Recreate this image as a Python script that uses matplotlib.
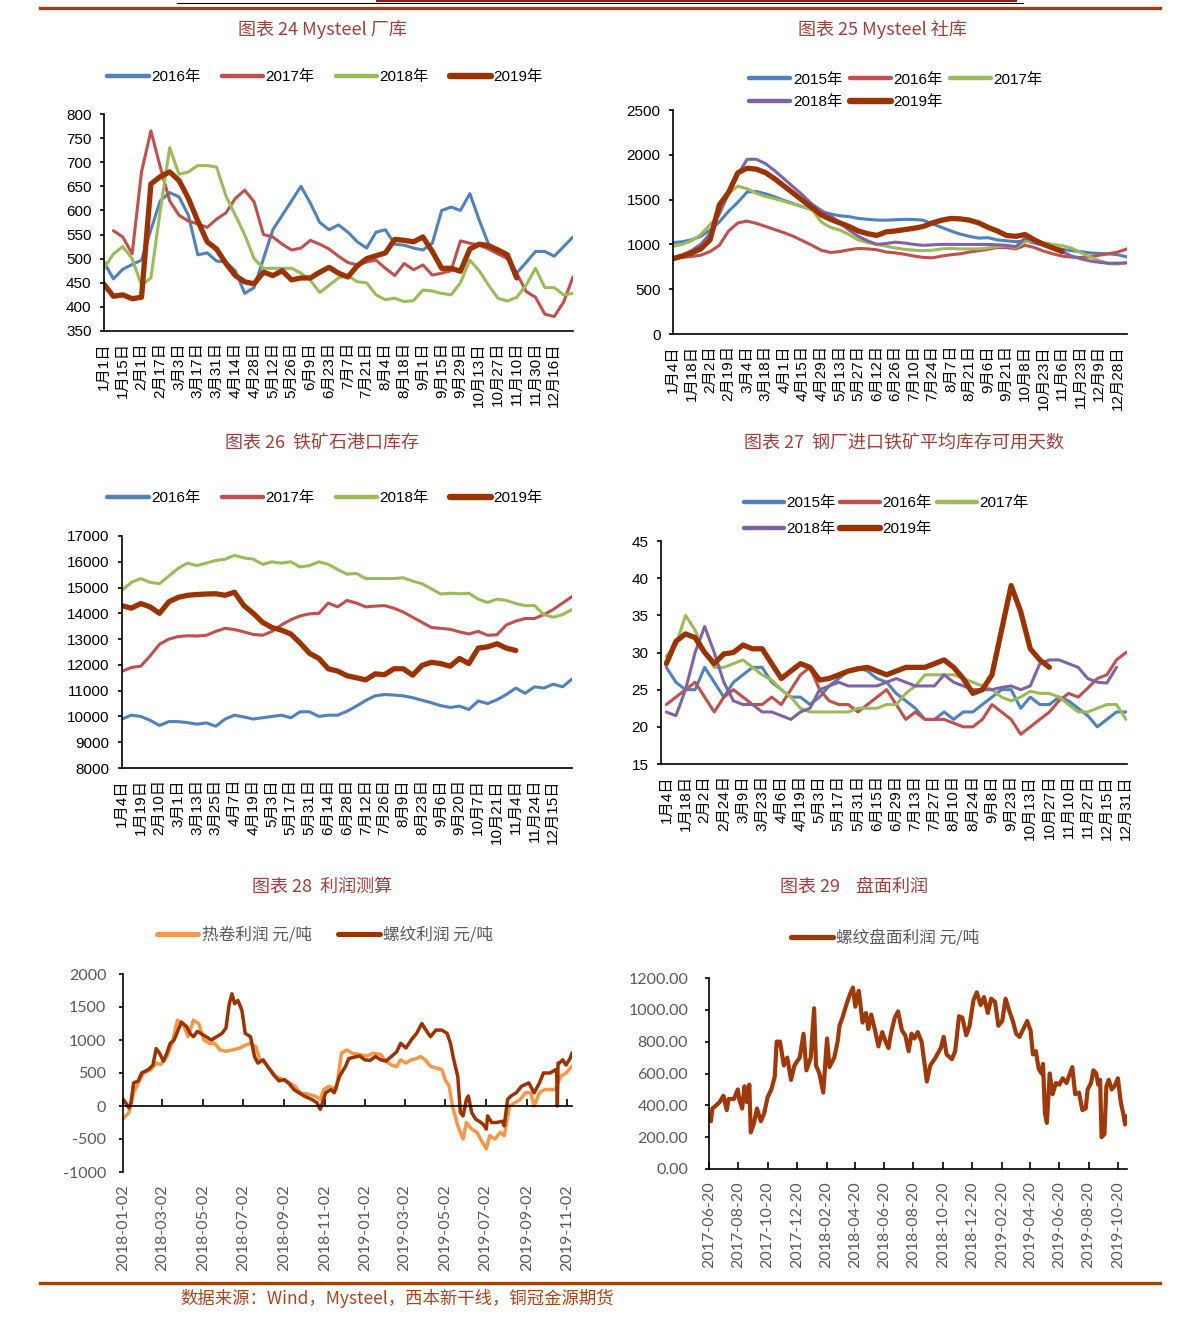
import matplotlib
matplotlib.use("Agg")
import matplotlib.pyplot as plt
from matplotlib.lines import Line2D
import matplotlib.dates as mdates
import numpy as np
import pandas as pd

plt.rcParams["font.family"] = ["Liberation Sans", "Noto Sans CJK SC"]
plt.rcParams["axes.unicode_minus"] = False

W, H = 1191, 1328
nan = np.nan

BLUE, RED, GREEN, PURPLE, DARK = "#4F81BD", "#C0504D", "#9BBB59", "#8064A2", "#9A3300"
ORANGE, REBAR, FUTC = "#F79646", "#9A3300", "#A0390A"
TITLE_C, GREY = "#A0403C", "#595959"

# ---- 图表24 Mysteel 厂库 (weekly) ----
P24_LABELS = ["1月1日", "1月15日", "2月1日", "2月17日", "3月3日", "3月17日", "3月31日",
              "4月14日", "4月28日", "5月12日", "5月26日", "6月9日", "6月23日", "7月7日",
              "7月21日", "8月4日", "8月18日", "9月1日", "9月15日", "9月29日", "10月13日",
              "10月27日", "11月10日", "11月30日", "12月16日"]
P24_2016 = [493, 458, 478, 488, 497, 560, 620, 637, 628, 590, 508, 512, 495, 493, 475, 428, 440,
            500, 560, 590, 620, 650, 615, 575, 560, 570, 555, 535, 522, 555, 560, 530, 528, 522,
            518, 532, 600, 607, 600, 635, 580, 530, 510, 505, 470, 492, 515, 515, 505, 525, 545]
P24_2017 = [nan, 558, 545, 510, 680, 765, 690, 620, 590, 578, 572, 565, 582, 595, 625, 642, 618,
            550, 545, 530, 518, 522, 538, 530, 520, 505, 492, 487, 493, 497, 480, 465, 490, 477,
            487, 466, 470, 475, 537, 532, 528, 520, 510, 500, 470, 432, 420, 385, 380, 410, 462]
P24_2018 = [480, 510, 525, 500, 445, 460, 600, 730, 675, 680, 693, 693, 690, 630, 590, 550, 500,
            480, 480, 480, 480, 470, 455, 430, 445, 460, 465, 452, 450, 425, 415, 418, 411, 413,
            435, 433, 428, 425, 450, 497, 475, 445, 418, 412, 420, 445, 480, 440, 440, 425, 428]
P24_2019 = [447, 422, 425, 417, 420, 655, 670, 680, 662, 625, 578, 535, 520, 490, 465, 452, 448,
            472, 465, 475, 456, 460, 460, 472, 482, 470, 462, 485, 500, 506, 512, 540, 538, 535,
            545, 515, 480, 480, 474, 520, 530, 527, 518, 508, 460]

# ---- 图表25 Mysteel 社库 ----
P25_LABELS = ["1月4日", "1月18日", "2月2日", "2月19日", "3月4日", "3月18日", "4月1日", "4月15日",
              "4月29日", "5月13日", "5月27日", "6月12日", "6月26日", "7月10日", "7月24日", "8月7日",
              "8月21日", "9月6日", "9月21日", "10月8日", "10月23日", "11月6日", "11月23日",
              "12月9日", "12月28日"]
P25_2015 = [1020, 1030, 1050, 1090, 1160, 1250, 1370, 1470, 1585, 1590, 1565, 1530, 1490, 1455,
            1420, 1390, 1365, 1340, 1320, 1310, 1290, 1280, 1272, 1270, 1275, 1280, 1278, 1270,
            1230, 1190, 1150, 1115, 1090, 1070, 1075, 1050, 1040, 1030, 1040, 1015, 990, 970, 945,
            930, 920, 905, 900, 895, 885, 860]
P25_2016 = [840, 855, 865, 880, 920, 990, 1150, 1240, 1260, 1235, 1200, 1165, 1130, 1090, 1040,
            990, 935, 910, 920, 940, 955, 950, 940, 915, 905, 890, 870, 855, 850, 870, 885, 895,
            915, 930, 945, 965, 965, 950, 990, 965, 925, 895, 870, 858, 855, 860, 880, 895, 915, 950]
P25_2017 = [980, 1000, 1040, 1110, 1220, 1330, 1570, 1650, 1620, 1570, 1535, 1510, 1480, 1450,
            1420, 1390, 1250, 1190, 1160, 1110, 1050, 1020, 1000, 980, 960, 945, 935, 930, 935,
            950, 955, 950, 950, 950, 960, 975, 985, 965, 1030, 1040, 1020, 1000, 985, 960, 910,
            860, 820, 785, 780, 795]
P25_2018 = [850, 880, 930, 1000, 1120, 1350, 1570, 1780, 1950, 1950, 1900, 1820, 1730, 1640,
            1550, 1450, 1380, 1320, 1240, 1160, 1090, 1040, 1000, 1010, 1025, 1015, 1000, 990, 995,
            1000, 1000, 1000, 1000, 1000, 1000, 995, 990, 975, 1070, 1040, 1010, 970, 920, 870,
            840, 815, 800, 790, 790, 795]
P25_2019 = [840, 870, 905, 950, 1050, 1440, 1580, 1800, 1850, 1840, 1800, 1730, 1650, 1570, 1490,
            1410, 1330, 1280, 1240, 1200, 1150, 1120, 1100, 1140, 1150, 1165, 1180, 1200, 1240,
            1270, 1290, 1285, 1270, 1240, 1190, 1150, 1100, 1090, 1110, 1050, 1000, 960, 920]

# ---- 图表26 铁矿石港口库存 ----
P26_LABELS = ["1月4日", "1月19日", "2月10日", "3月1日", "3月13日", "3月25日", "4月7日", "4月19日",
              "5月3日", "5月17日", "5月31日", "6月14日", "6月28日", "7月12日", "7月26日", "8月9日",
              "8月23日", "9月6日", "9月20日", "10月7日", "10月21日", "11月4日", "11月24日", "12月15日"]
P26_2016 = [9900, 10050, 10000, 9850, 9650, 9800, 9800, 9760, 9700, 9750, 9620, 9900, 10050, 9980,
            9900, 9950, 10000, 10050, 9950, 10180, 10180, 10000, 10050, 10050, 10200, 10400, 10620,
            10800, 10850, 10830, 10800, 10730, 10630, 10530, 10420, 10350, 10400, 10270, 10600,
            10500, 10650, 10850, 11100, 10900, 11150, 11100, 11250, 11150, 11450]
P26_2017 = [11750, 11900, 11950, 12350, 12800, 13000, 13100, 13130, 13120, 13150, 13300, 13420,
            13370, 13280, 13180, 13150, 13300, 13550, 13750, 13900, 13980, 14000, 14400, 14250,
            14500, 14400, 14250, 14280, 14300, 14200, 14050, 13850, 13650, 13450, 13420, 13380,
            13280, 13200, 13300, 13150, 13170, 13550, 13700, 13800, 13800, 13950, 14150, 14400, 14650]
P26_2018 = [14900, 15200, 15350, 15200, 15150, 15450, 15750, 15950, 15850, 15950, 16050, 16100,
            16250, 16150, 16100, 15900, 16000, 15950, 16000, 15800, 15850, 16000, 15900, 15700,
            15520, 15550, 15350, 15350, 15350, 15350, 15380, 15250, 15150, 14950, 14750, 14780,
            14760, 14780, 14550, 14420, 14550, 14500, 14380, 14300, 14300, 13950, 13850, 13950, 14150]
P26_2019 = [14300, 14200, 14380, 14250, 14000, 14450, 14620, 14700, 14730, 14750, 14760, 14700,
            14820, 14300, 14000, 13650, 13450, 13350, 13200, 12850, 12450, 12250, 11850, 11760,
            11580, 11500, 11420, 11650, 11620, 11850, 11850, 11600, 11980, 12100, 12050, 11950,
            12250, 12050, 12650, 12700, 12820, 12650, 12560]

# ---- 图表27 钢厂进口铁矿平均库存可用天数 ----
P27_LABELS = ["1月4日", "1月18日", "2月2日", "2月24日", "3月9日", "3月23日", "4月6日", "4月19日",
              "5月3日", "5月17日", "5月31日", "6月15日", "6月29日", "7月13日", "7月27日", "8月10日",
              "8月24日", "9月8日", "9月23日", "10月13日", "10月27日", "11月10日", "11月27日",
              "12月15日", "12月31日"]
P27_2015 = [28, 26, 25, 25, 28, 26, 24, 26, 27, 28, 28, 26, 25, 24, 24, 23, 24, 25.5, 26.5, 27.5,
            28, 27.5, 26.5, 26, 24.5, 23.5, 22.5, 21, 21, 22, 21, 22, 22, 23, 24, 25, 25, 22.5, 24,
            23, 23, 24, 23.5, 22.5, 21.5, 20, 21, 22, 22]
P27_2016 = [23, 24, 25, 26, 24, 22, 24, 25, 24, 23, 23, 24, 23, 25, 27, 28, 25, 23.5, 23, 23,
            22, 23, 24, 25, 23, 21, 22, 21, 21, 21, 20.5, 20, 20, 21, 23, 22, 21, 19, 20, 21,
            22, 23.5, 24.5, 24, 25.2, 26.5, 27, 29, 30]
P27_2017 = [29.5, 31, 35, 33, 30, 28, 28, 28.5, 29, 28, 27, 26.3, 25, 24, 22.5, 22, 22, 22, 22, 22,
            22.5, 22.5, 22.5, 23, 23, 24.5, 25.5, 27, 27, 27, 27, 26.5, 26, 25.5, 25, 24, 23.5, 24,
            24.8, 24.5, 24.5, 24, 23, 22, 22, 22.5, 23, 23, 21]
P27_2018 = [22, 21.5, 25, 30, 33.5, 30, 26, 23.5, 23, 23, 22, 22, 21.5, 21, 22, 22.5, 25, 25.5,
            26, 25.5, 25.5, 25.5, 25.5, 26, 26.5, 26, 25.5, 25.5, 25.5, 27, 26, 25.5, 25, 25, 25,
            25.3, 25.5, 25, 25.5, 28.5, 29, 29, 28.5, 28, 26.5, 26, 25.9, 28]
P27_2019 = [28.5, 31.5, 32.5, 32, 30, 28.5, 29.8, 30, 31, 30.5, 30.5, 28.5, 26.5, 27.5, 28.5, 28,
            26.3, 26.5, 27, 27.5, 27.8, 28, 27.5, 27, 27.5, 28, 28, 28, 28.5, 29, 28, 26.5, 24.5,
            25, 27, 33, 39, 35.5, 30.5, 29, 28]

# ---- 图表28 利润测算 (元/吨) ----
REBAR_DATES = ["2018-01-02", "2018-01-06", "2018-01-11", "2018-01-14", "2018-01-18", "2018-01-25",
               "2018-01-30", "2018-02-05", "2018-02-10", "2018-02-16", "2018-02-21", "2018-02-26",
               "2018-03-04", "2018-03-09", "2018-03-14", "2018-03-20", "2018-03-28", "2018-03-31",
               "2018-04-08", "2018-04-13", "2018-04-18", "2018-04-24", "2018-04-29", "2018-05-07",
               "2018-05-15", "2018-05-23", "2018-05-31", "2018-06-06", "2018-06-11", "2018-06-15",
               "2018-06-19", "2018-06-24", "2018-06-30", "2018-07-05", "2018-07-13", "2018-07-19",
               "2018-07-24", "2018-08-01", "2018-08-09", "2018-08-17", "2018-08-25", "2018-09-02",
               "2018-09-10", "2018-09-16", "2018-09-24", "2018-10-02", "2018-10-13", "2018-10-21",
               "2018-10-26", "2018-10-31", "2018-11-03", "2018-11-11", "2018-11-16", "2018-11-24",
               "2018-12-03", "2018-12-08", "2018-12-16", "2018-12-24", "2019-01-01", "2019-01-09",
               "2019-01-17", "2019-01-25", "2019-02-02", "2019-02-10", "2019-02-18", "2019-02-24",
               "2019-03-04", "2019-03-12", "2019-03-20", "2019-03-28", "2019-04-05", "2019-04-10",
               "2019-04-18", "2019-04-27", "2019-05-05", "2019-05-10", "2019-05-15", "2019-05-21",
               "2019-05-25", "2019-05-29", "2019-06-03", "2019-06-06", "2019-06-11", "2019-06-17",
               "2019-06-25", "2019-06-30", "2019-07-03", "2019-07-05", "2019-07-11", "2019-07-19",
               "2019-07-27", "2019-07-30", "2019-08-04", "2019-08-09", "2019-08-17", "2019-08-25",
               "2019-09-05", "2019-09-13", "2019-09-21", "2019-09-27", "2019-10-07", "2019-10-15",
               "2019-10-17", "2019-10-18", "2019-10-19", "2019-10-21", "2019-10-26", "2019-10-31",
               "2019-11-06", "2019-11-09"]
REBAR_VALUES = [100, 50, -30, 50, 350, 380, 500, 530, 560, 620, 870, 800, 680, 800, 950, 1000,
                1200, 1270, 1200, 1100, 1050, 1130, 1100, 1050, 1000, 1050, 1100, 1180, 1550, 1700,
                1550, 1600, 1450, 1100, 1050, 750, 650, 700, 580, 470, 380, 400, 330, 250, 200, 150,
                100, 50, -50, 100, 200, 250, 200, 450, 600, 720, 740, 760, 700, 690, 750, 700, 680,
                750, 820, 950, 880, 1000, 1100, 1250, 1120, 1050, 1150, 1150, 1100, 950, 700, 450,
                -100, -150, 100, 150, -100, -200, -250, -300, -350, -150, -250, -250, -230, -300,
                100, 150, 200, 300, 350, 200, 350, 500, 500, 550, 500, 0, 650, 650, 700, 620, 720, 800]
HRC_DATES = ["2018-01-02", "2018-01-06", "2018-01-11", "2018-01-18", "2018-01-25", "2018-02-02",
             "2018-02-13", "2018-02-21", "2018-02-28", "2018-03-09", "2018-03-17", "2018-03-25",
             "2018-04-02", "2018-04-10", "2018-04-18", "2018-04-26", "2018-05-04", "2018-05-12",
             "2018-05-20", "2018-05-28", "2018-06-06", "2018-06-16", "2018-06-27", "2018-07-05",
             "2018-07-13", "2018-07-21", "2018-07-27", "2018-08-04", "2018-08-12", "2018-08-20",
             "2018-08-31", "2018-09-10", "2018-09-18", "2018-09-26", "2018-10-07", "2018-10-18",
             "2018-10-26", "2018-10-31", "2018-11-08", "2018-11-19", "2018-11-27", "2018-12-05",
             "2018-12-13", "2018-12-24", "2019-01-04", "2019-01-14", "2019-01-25", "2019-02-02",
             "2019-02-10", "2019-02-18", "2019-02-24", "2019-03-04", "2019-03-12", "2019-03-20",
             "2019-03-26", "2019-04-02", "2019-04-10", "2019-04-18", "2019-04-27", "2019-05-02",
             "2019-05-08", "2019-05-13", "2019-05-21", "2019-05-29", "2019-06-03", "2019-06-11",
             "2019-06-19", "2019-06-27", "2019-07-03", "2019-07-08", "2019-07-16", "2019-07-24",
             "2019-07-30", "2019-08-07", "2019-08-15", "2019-08-23", "2019-08-31", "2019-09-08",
             "2019-09-13", "2019-09-21", "2019-09-29", "2019-10-07", "2019-10-15", "2019-10-23",
             "2019-10-31", "2019-11-09"]
HRC_VALUES = [-200, -150, -100, 200, 350, 500, 550, 650, 630, 750, 950, 1300, 1250, 1050, 1300,
              1250, 1000, 950, 950, 850, 830, 850, 880, 920, 950, 900, 700, 650, 550, 450, 400,
              350, 300, 200, 180, 150, 100, 250, 300, 250, 800, 850, 800, 780, 760, 800, 780, 680,
              620, 600, 700, 650, 700, 720, 750, 700, 600, 580, 550, 400, 300, 0, -300, -500, -250,
              -350, -400, -550, -650, -450, -500, -400, -450, 0, 50, 100, 200, 200, 0, 200, 250,
              250, 250, 450, 500, 600]
P28_TICKS = ["2018-01-02", "2018-03-02", "2018-05-02", "2018-07-02", "2018-09-02", "2018-11-02",
             "2019-01-02", "2019-03-02", "2019-05-02", "2019-07-02", "2019-09-02", "2019-11-02"]

# ---- 图表29 盘面利润 ----
FUT_DATES = ["2017-06-20", "2017-06-24", "2017-06-27", "2017-07-05", "2017-07-12", "2017-07-20",
             "2017-07-27", "2017-07-31", "2017-08-11", "2017-08-19", "2017-08-22", "2017-08-28",
             "2017-09-02", "2017-09-07", "2017-09-12", "2017-09-15", "2017-09-21", "2017-09-28",
             "2017-10-06", "2017-10-13", "2017-10-20", "2017-10-28", "2017-11-04", "2017-11-08",
             "2017-11-15", "2017-11-23", "2017-11-30", "2017-12-08", "2017-12-15", "2017-12-26",
             "2018-01-03", "2018-01-09", "2018-01-18", "2018-01-25", "2018-01-29", "2018-02-05",
             "2018-02-13", "2018-02-21", "2018-02-26", "2018-03-08", "2018-03-15", "2018-03-19",
             "2018-03-26", "2018-04-03", "2018-04-10", "2018-04-16", "2018-04-21", "2018-04-28",
             "2018-05-06", "2018-05-13", "2018-05-18", "2018-05-24", "2018-06-01", "2018-06-08",
             "2018-06-16", "2018-06-23", "2018-06-29", "2018-07-04", "2018-07-12", "2018-07-19",
             "2018-07-27", "2018-08-03", "2018-08-10", "2018-08-16", "2018-08-22", "2018-08-29",
             "2018-09-06", "2018-09-13", "2018-09-17", "2018-09-24", "2018-10-05", "2018-10-16",
             "2018-10-22", "2018-10-28", "2018-11-08", "2018-11-15", "2018-11-23", "2018-11-30",
             "2018-12-08", "2018-12-15", "2018-12-23", "2018-12-30", "2019-01-07", "2019-01-14",
             "2019-01-22", "2019-01-29", "2019-02-06", "2019-02-13", "2019-02-21", "2019-02-28",
             "2019-03-07", "2019-03-15", "2019-03-22", "2019-03-29", "2019-04-06", "2019-04-14",
             "2019-04-21", "2019-04-26", "2019-05-02", "2019-05-08", "2019-05-14", "2019-05-17",
             "2019-05-21", "2019-05-25", "2019-05-31", "2019-06-06", "2019-06-13", "2019-06-20",
             "2019-06-27", "2019-07-05", "2019-07-12", "2019-07-17", "2019-07-23", "2019-07-31",
             "2019-08-07", "2019-08-14", "2019-08-18", "2019-08-25", "2019-08-30", "2019-09-05",
             "2019-09-09", "2019-09-13", "2019-09-16", "2019-09-22", "2019-09-26", "2019-10-01",
             "2019-10-07", "2019-10-13", "2019-10-20", "2019-10-26", "2019-10-31", "2019-11-04",
             "2019-11-08"]
FUT_VALUES = [330, 300, 380, 400, 420, 460, 370, 440, 440, 500, 440, 380, 520, 420, 530, 230, 280,
              380, 300, 350, 450, 500, 580, 800, 800, 650, 700, 560, 650, 700, 850, 620, 700, 1010,
              650, 600, 480, 820, 640, 700, 800, 900, 960, 1040, 1100, 1140, 1020, 1120, 920, 980,
              880, 970, 870, 770, 860, 800, 760, 850, 950, 990, 870, 840, 740, 850, 820, 860, 800,
              640, 550, 650, 700, 760, 830, 720, 690, 740, 960, 950, 840, 900, 1060, 1110, 1030,
              1080, 980, 1070, 1050, 900, 930, 1070, 1000, 930, 850, 830, 880, 930, 870, 720, 740,
              630, 600, 660, 350, 290, 600, 470, 540, 530, 570, 540, 600, 640, 470, 480, 370, 380,
              500, 540, 620, 600, 530, 560, 200, 220, 520, 560, 500, 520, 570, 420, 350, 280, 330]
P29_TICKS = ["2017-06-20", "2017-08-20", "2017-10-20", "2017-12-20", "2018-02-20", "2018-04-20",
             "2018-06-20", "2018-08-20", "2018-10-20", "2018-12-20", "2019-02-20", "2019-04-20",
             "2019-06-20", "2019-08-20", "2019-10-20"]


def box(x0, y0, x1, y1):
    return [x0 / W, 1 - y1 / H, (x1 - x0) / W, (y1 - y0) / H]


def fpos(x, y):
    return (x / W, 1 - y / H)


def style_spines(ax):
    for s in ("top", "right"):
        ax.spines[s].set_visible(False)
    for s in ("left", "bottom"):
        ax.spines[s].set_linewidth(1.2)
        ax.spines[s].set_color("black")


def season(ax, labels, series, xlim, yticks):
    for name, vals, color, lw in series:
        y = np.array(vals, dtype=float)
        ax.plot(np.arange(len(y)), y, color=color, lw=lw, label=name,
                solid_joinstyle="round", solid_capstyle="round")
    ax.set_xlim(*xlim)
    ax.set_ylim(yticks[0], yticks[-1])
    ax.set_yticks(yticks)
    ax.set_xticks(np.arange(0, 2 * len(labels), 2), labels=labels, rotation=90)
    style_spines(ax)
    ax.tick_params(axis="x", length=0, pad=8, labelsize=11)
    ax.tick_params(axis="y", direction="out", length=3, width=1.2, pad=6, labelsize=11)


def title(fig, text, x, y):
    fig.text(*fpos(x, y), text, ha="center", va="center", fontsize=13, color=TITLE_C,
             family=["Noto Sans CJK SC"])


def fatten(leg, widths):
    for ln, w in zip(leg.get_lines(), widths):
        ln.set_linewidth(w)
        ln.set_solid_capstyle("round")


def legend(ax, fig, x, y, ncol, order=None, **kw):
    h, l = ax.get_legend_handles_labels()
    if order is not None:
        h = [h[i] for i in order]
        l = [l[i] for i in order]
    leg = ax.legend(h, l, loc="center", bbox_to_anchor=fpos(x, y),
                    bbox_transform=fig.transFigure, ncol=ncol, frameon=False, **kw)
    fatten(leg, [4.6 if lab == "2019年" else 3.2 for lab in l])
    return leg


def main():
    fig = plt.figure(figsize=(W / 100, H / 100), dpi=100)

    # page rules
    fig.add_artist(Line2D([177 / W, 1023 / W], [1 - 3 / H] * 2, transform=fig.transFigure,
                          color="black", lw=0.8))
    fig.add_artist(Line2D([377 / W, 1016 / W], [1 - 1 / H] * 2, transform=fig.transFigure,
                          color="#8B1A1A", lw=1.5))
    for yy in (8, 1283):
        fig.add_artist(Line2D([40 / W, 1160 / W], [1 - yy / H] * 2, transform=fig.transFigure,
                              color="#A0400F", lw=2.4))

    lw, lw19 = 2.2, 3.8
    # 24
    ax1 = fig.add_axes(box(104, 114, 573, 331))
    season(ax1, P24_LABELS, [("2016年", P24_2016, BLUE, lw), ("2017年", P24_2017, RED, lw),
                             ("2018年", P24_2018, GREEN, lw), ("2019年", P24_2019, DARK, lw19)],
           (0, 50), np.arange(350, 801, 50))
    title(fig, "图表 24 Mysteel 厂库", 322, 30)
    legend(ax1, fig, 325, 77, 4, handlelength=2.7, handletextpad=0.15, columnspacing=1.4,
           fontsize=11)

    # 25
    ax2 = fig.add_axes(box(673, 110, 1127, 334))
    season(ax2, P25_LABELS, [("2015年", P25_2015, BLUE, lw), ("2016年", P25_2016, RED, lw),
                             ("2017年", P25_2017, GREEN, lw), ("2018年", P25_2018, PURPLE, lw),
                             ("2019年", P25_2019, DARK, lw19)],
           (0, 49), np.arange(0, 2501, 500))
    title(fig, "图表 25 Mysteel 社库", 882, 30)
    legend(ax2, fig, 896, 91, 3, order=[0, 3, 1, 4, 2], handlelength=2.7, handletextpad=0.15,
           columnspacing=0.5, labelspacing=0.55, fontsize=11)

    # 26
    ax3 = fig.add_axes(box(122, 536, 572, 768))
    season(ax3, P26_LABELS, [("2016年", P26_2016, BLUE, lw), ("2017年", P26_2017, RED, lw),
                             ("2018年", P26_2018, GREEN, lw), ("2019年", P26_2019, DARK, lw19)],
           (0, 48), np.arange(8000, 17001, 1000))
    title(fig, "图表 26  铁矿石港口库存", 322, 443)
    legend(ax3, fig, 325, 498, 4, handlelength=2.7, handletextpad=0.15, columnspacing=1.4,
           fontsize=11)

    # 27
    ax4 = fig.add_axes(box(661, 541, 1127, 764))
    season(ax4, P27_LABELS, [("2015年", P27_2015, BLUE, lw), ("2016年", P27_2016, RED, lw),
                             ("2017年", P27_2017, GREEN, lw), ("2018年", P27_2018, PURPLE, lw),
                             ("2019年", P27_2019, DARK, lw19)],
           (-0.56, 48.1), np.arange(15, 46, 5))
    title(fig, "图表 27  钢厂进口铁矿平均库存可用天数", 904, 443)
    legend(ax4, fig, 886, 516, 3, order=[0, 3, 1, 4, 2], handlelength=2.6, handletextpad=0.15,
           columnspacing=0.35, labelspacing=0.8, fontsize=11)

    # 28
    ax5 = fig.add_axes(box(123, 974, 572, 1172))
    xr = mdates.date2num(pd.to_datetime(REBAR_DATES))
    xh = mdates.date2num(pd.to_datetime(HRC_DATES))
    ax5.plot(xh, HRC_VALUES, color=ORANGE, lw=2.5, label="热卷利润 元/吨", solid_joinstyle="round")
    ax5.plot(xr, REBAR_VALUES, color=REBAR, lw=2.5, label="螺纹利润 元/吨", solid_joinstyle="round")
    t5 = mdates.date2num(pd.to_datetime(P28_TICKS))
    ax5.set_xlim(mdates.date2num(pd.Timestamp("2018-01-02")),
                 mdates.date2num(pd.Timestamp("2019-11-09")))
    ax5.set_ylim(-1000, 2000)
    yt5 = np.arange(-1000, 2001, 500)
    ax5.set_yticks(yt5, labels=[str(v) for v in yt5])
    style_spines(ax5)
    ax5.spines["bottom"].set_position(("data", 0))
    ax5.set_xticks(t5)
    ax5.tick_params(axis="x", direction="in", length=5, width=1.2, labelbottom=False)
    ax5.tick_params(axis="y", direction="out", length=3, width=1.2, pad=9, labelsize=11.5,
                    labelcolor=GREY, labelfontfamily="Lato")
    sec = ax5.secondary_xaxis(0)
    sec.set_xticks(t5, labels=P28_TICKS)
    sec.spines["bottom"].set_visible(False)
    sec.tick_params(length=0, pad=9, labelrotation=90, labelsize=11.5, labelcolor=GREY,
                    labelfontfamily="Lato")
    title(fig, "图表 28  利润测算", 322, 887)
    h, l = ax5.get_legend_handles_labels()
    leg = ax5.legend(h, l, loc="center", bbox_to_anchor=fpos(325, 935),
                     bbox_transform=fig.transFigure, ncol=2, frameon=False, handlelength=2.5,
                     handletextpad=0.2, columnspacing=1.6,
                     prop={"family": ["Noto Sans CJK SC"], "size": 12})
    for t in leg.get_texts():
        t.set_color(GREY)
    fatten(leg, [3.6, 3.6])

    # 29
    ax6 = fig.add_axes(box(709, 978, 1127, 1169))
    xf = mdates.date2num(pd.to_datetime(FUT_DATES))
    ax6.plot(xf, FUT_VALUES, color=FUTC, lw=3, label="螺纹盘面利润 元/吨", solid_joinstyle="round")
    t6 = mdates.date2num(pd.to_datetime(P29_TICKS))
    ax6.set_xlim(mdates.date2num(pd.Timestamp("2017-06-20")),
                 mdates.date2num(pd.Timestamp("2019-11-08")))
    ax6.set_ylim(0, 1200)
    yt6 = np.arange(0, 1201, 200)
    ax6.set_yticks(yt6, labels=[f"{v:.2f}" for v in yt6])
    ax6.set_xticks(t6, labels=P29_TICKS)
    style_spines(ax6)
    ax6.tick_params(axis="x", direction="in", length=5, width=1.2, pad=9, labelrotation=90,
                    labelsize=11.5, labelcolor=GREY, labelfontfamily="Lato")
    ax6.tick_params(axis="y", direction="out", length=3, width=1.2, pad=12, labelsize=11.5,
                    labelcolor=GREY, labelfontfamily="Lato")
    title(fig, "图表 29    盘面利润", 854, 887)
    h, l = ax6.get_legend_handles_labels()
    leg = ax6.legend(h, l, loc="center", bbox_to_anchor=fpos(885, 938),
                     bbox_transform=fig.transFigure, frameon=False, handlelength=2.5,
                     handletextpad=0.2, prop={"family": ["Noto Sans CJK SC"], "size": 12})
    for t in leg.get_texts():
        t.set_color(GREY)
    fatten(leg, [3.8])

    fig.text(180 / W, 1 - 1298 / H, "数据来源：Wind，Mysteel，西本新干线，铜冠金源期货",
             ha="left", va="center", fontsize=12.5, color="#A8461A",
             family=["Noto Sans CJK SC"])

    fig.savefig("out.png", dpi=100)


if __name__ == "__main__":
    main()
